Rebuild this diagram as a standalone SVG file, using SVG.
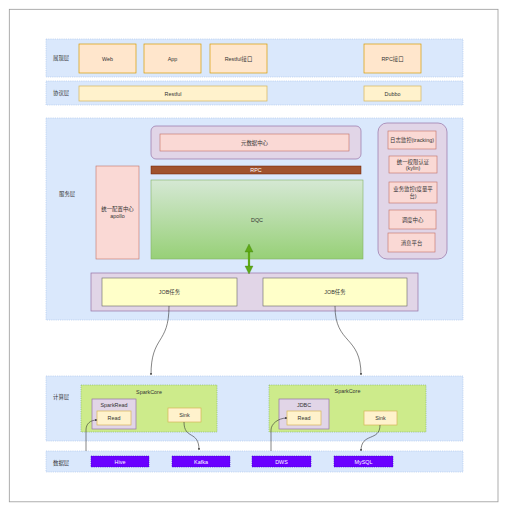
<svg xmlns="http://www.w3.org/2000/svg" width="509" height="513" viewBox="0 0 509 513">
<defs>
<linearGradient id="gq" x1="0" y1="0" x2="0" y2="1"><stop offset="0" stop-color="#d5e8d4"/><stop offset="1" stop-color="#97d077"/></linearGradient>
<marker id="ah" viewBox="0 0 10 10" refX="9" refY="5" markerWidth="4" markerHeight="4" orient="auto"><path d="M0,1 L10,5 L0,9 L3,5 Z" fill="#000"/></marker>
<style>
text{font-family:"Liberation Sans","Noto Sans CJK SC",sans-serif;font-size:5.4px;fill:#333;text-anchor:middle;dominant-baseline:central}
.band{fill:#dae8fc;stroke:#a9c4eb;stroke-width:0.6;stroke-dasharray:1.2 1}
.org{fill:#ffe6cc;stroke:#d79b00;stroke-width:0.7}
.yel{fill:#fff2cc;stroke:#d6b656;stroke-width:0.7}
.pur{fill:#e1d5e7;stroke:#9673a6;stroke-width:0.7}
.pnk{fill:#fad9d5;stroke:#ae4132;stroke-width:0.6;stroke-opacity:0.7}
.job{fill:#ffffc9;stroke:#666;stroke-width:0.6}
.spk{fill:#cdeb8b;stroke:#82b366;stroke-width:0.6;stroke-dasharray:1.2 1}
.ds{fill:#6a00ff;stroke:#3700cc;stroke-width:0.6;stroke-dasharray:1.2 1}
.ds+text,.wt{fill:#fff}
.lbl{text-anchor:start}
.cn{fill:none;stroke:#333;stroke-width:0.6;marker-end:url(#ah)}
</style>
</defs>
<rect x="0" y="0" width="509" height="513" fill="#fff"/>
<rect x="9.3" y="9.3" width="488.7" height="492.5" fill="#fff" stroke="#999" stroke-width="0.8"/>

<g id="layer-show">
<rect class="band" x="46" y="39" width="417" height="38"/>
<text class="lbl" x="53" y="58">展现层</text>
</g>
<g id="layer-proto">
<rect class="band" x="46" y="81" width="417" height="24"/>
<text class="lbl" x="53" y="93">协议层</text>
</g>
<g id="layer-service">
<rect class="band" x="46" y="118" width="417" height="202"/>
<text class="lbl" x="59" y="194">服务层</text>
</g>
<g id="layer-compute">
<rect class="band" x="46" y="376" width="417" height="65"/>
<text class="lbl" x="53" y="397">计算层</text>
</g>
<g id="layer-data">
<rect class="band" x="46" y="451" width="417" height="21"/>
<text class="lbl" x="53" y="463">数据层</text>
</g>

<g id="web"><rect class="org" x="79" y="44" width="57" height="29"/><text x="107.5" y="58.5">Web</text></g>
<g id="app"><rect class="org" x="144" y="44" width="57" height="29"/><text x="172.5" y="58.5">App</text></g>
<g id="restful-api"><rect class="org" x="210" y="44" width="57" height="29"/><text x="238.5" y="58.5">Restful接口</text></g>
<g id="rpc-api"><rect class="org" x="364" y="44" width="57" height="29"/><text x="392.5" y="58.5">RPC接口</text></g>
<g id="restful"><rect class="yel" x="79" y="86" width="188" height="15"/><text x="173" y="93.5">Restful</text></g>
<g id="dubbo"><rect class="yel" x="364" y="86" width="57" height="15"/><text x="392.5" y="93.5">Dubbo</text></g>

<g id="meta">
<rect class="pur" x="151" y="126" width="210" height="33" rx="5"/>
<rect class="pnk" x="160" y="134" width="189" height="17"/>
<text x="254.5" y="142.5">元数据中心</text>
</g>
<g id="rpc"><rect x="151" y="166" width="210" height="8" fill="#a0522d" stroke="#6d1f00" stroke-width="0.5"/><text class="wt" x="256" y="170">RPC</text></g>
<g id="dqc"><rect x="151" y="180" width="212" height="79" fill="url(#gq)" stroke="#82b366" stroke-width="0.6"/><text x="257" y="219.5">DQC</text></g>
<g id="apollo"><rect class="pnk" x="96" y="166" width="43" height="93"/><text x="117.5" y="209">统一配置中心</text><text x="117.5" y="216">apollo</text></g>

<g id="right-col">
<rect class="pur" x="378" y="123" width="69" height="136" rx="9"/>
<rect class="pnk" x="388" y="131" width="48" height="18"/><text x="412" y="140">日志监控(tracking)</text>
<rect class="pnk" x="389" y="156" width="48" height="17"/><text x="413" y="161.5">统一权限认证</text><text x="413" y="167.5">(kylin)</text>
<rect class="pnk" x="389" y="182" width="48" height="21"/><text x="413" y="189">业务监控(度量平</text><text x="413" y="195.5">台)</text>
<rect class="pnk" x="389" y="210" width="47" height="19"/><text x="412.5" y="219.5">调度中心</text>
<rect class="pnk" x="388" y="233" width="47" height="19"/><text x="411.5" y="242.5">消息平台</text>
</g>

<g id="jobs">
<rect class="pur" x="91" y="273" width="327" height="38"/>
<rect class="job" x="102" y="278" width="135" height="28"/><text x="169.5" y="292">JOB任务</text>
<rect class="job" x="263" y="278" width="144" height="28"/><text x="335" y="292">JOB任务</text>
</g>

<g id="spark1">
<rect class="spk" x="81" y="385" width="136" height="47"/><text x="149" y="392">SparkCore</text>
<rect class="pur" x="92" y="399" width="44" height="30"/><text x="114" y="404.5">SparkRead</text>
<rect class="yel" x="97" y="411" width="34" height="14"/><text x="114" y="418">Read</text>
<rect class="yel" x="168" y="408" width="33" height="14"/><text x="184.5" y="415">Sink</text>
</g>
<g id="spark2">
<rect class="spk" x="269" y="385" width="157" height="47"/><text x="347.5" y="390.5">SparkCore</text>
<rect class="pur" x="279" y="399" width="50" height="30"/><text x="304" y="405">JDBC</text>
<rect class="yel" x="287" y="411" width="34" height="14"/><text x="304" y="418">Read</text>
<rect class="yel" x="364" y="411" width="33" height="14"/><text x="380.5" y="418">Sink</text>
</g>

<g id="hive"><rect class="ds" x="91" y="456" width="58" height="11"/><text class="wt" x="120" y="461.5">Hive</text></g>
<g id="kafka"><rect class="ds" x="172" y="456" width="58" height="11"/><text class="wt" x="201" y="461.5">Kafka</text></g>
<g id="dws"><rect class="ds" x="252" y="456" width="59" height="11"/><text class="wt" x="281.5" y="461.5">DWS</text></g>
<g id="mysql"><rect class="ds" x="334" y="456" width="59" height="11"/><text class="wt" x="363.5" y="461.5">MySQL</text></g>

<g id="connectors">
<path d="M249,247 L249,271" stroke="#60a917" stroke-width="2.2" fill="none"/>
<path d="M249,244 L245,252 L253,252 Z M249,274 L245,266 L253,266 Z" fill="#60a917" stroke="#2d7600" stroke-width="0.3"/>
<path class="cn" d="M169,306 C169,345 151,335 151,375"/>
<path class="cn" d="M335,306 C335,345 361,335 361,375"/>
<path class="cn" d="M86,451 L86,430 C86,424 90,420 97,420"/>
<path class="cn" d="M184,422 C184,440 199,430 199,450"/>
<path class="cn" d="M271,451 L271,430 C271,424 278,418 287,418"/>
<path class="cn" d="M380,425 C380,442 361,432 361,451"/>
</g>
</svg>
